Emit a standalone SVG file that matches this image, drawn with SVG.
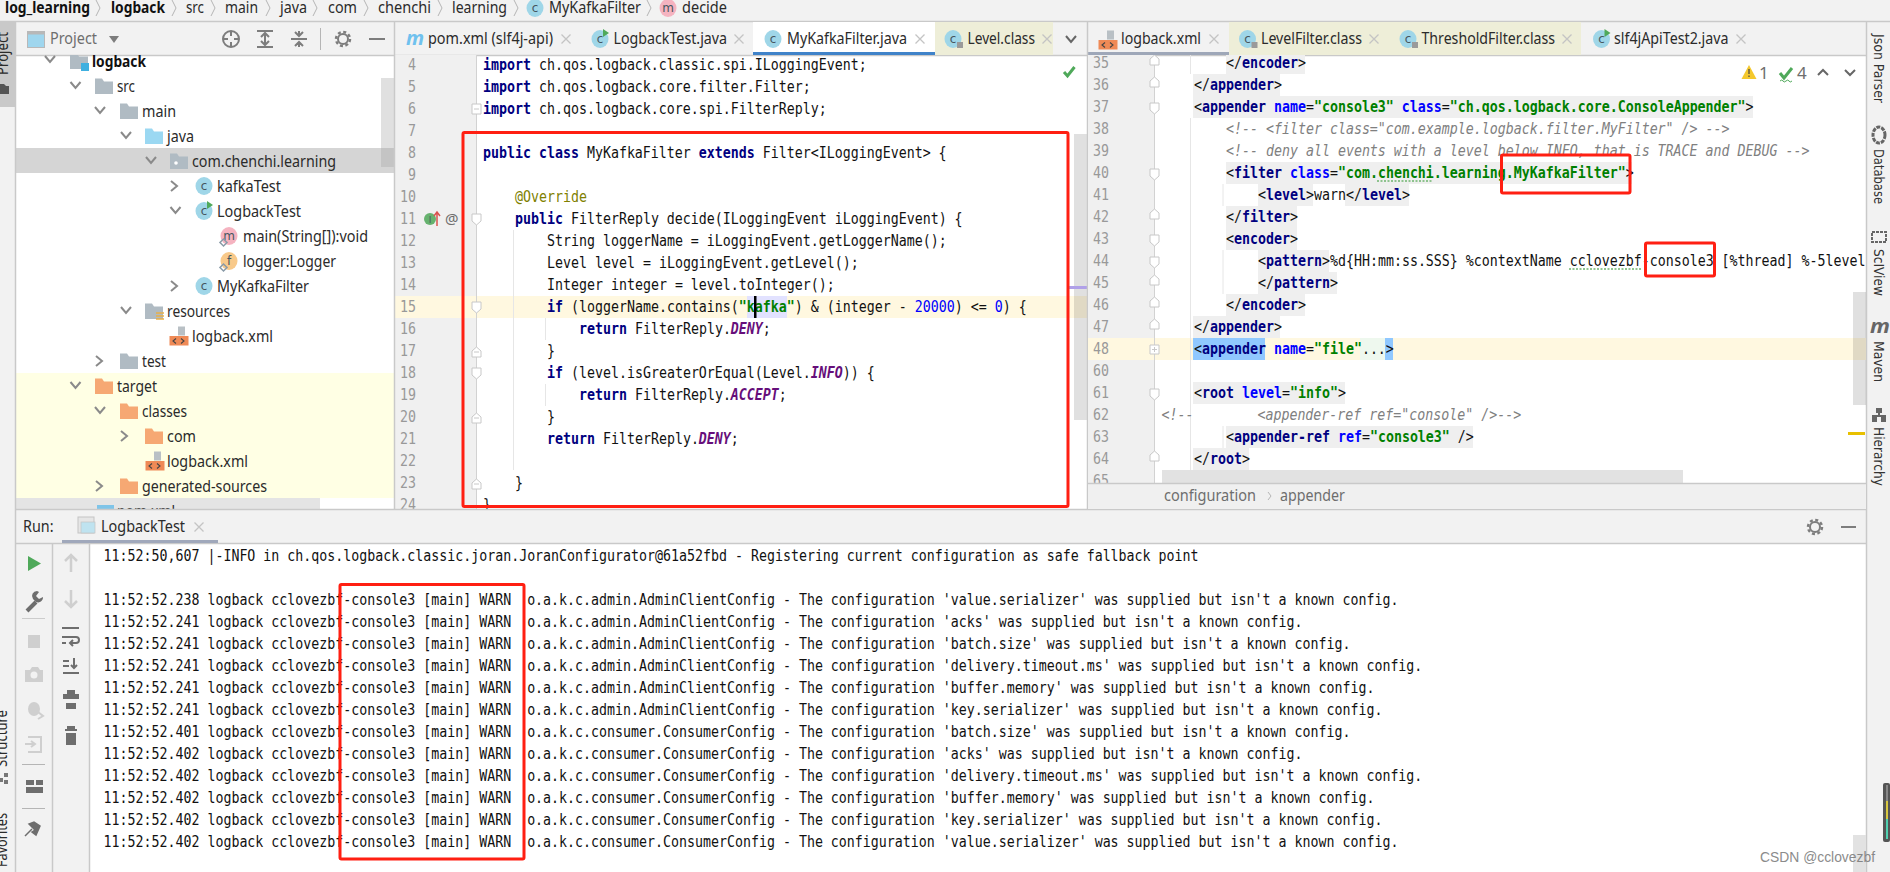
<svg xmlns="http://www.w3.org/2000/svg" width="1890" height="872" viewBox="0 0 1890 872">
<style>
text{white-space:pre}
.u{font:16px "Noto Sans","Liberation Sans",sans-serif;fill:#2b2b2b}
.b{font-weight:700;fill:#111}
.g{fill:#6e6e6e}
.v{font:13.5px "DejaVu Sans","Liberation Sans",sans-serif;fill:#333}
.m{font:15px "DejaVu Sans Mono","Liberation Mono",monospace;fill:#111}
.n{font:15px "DejaVu Sans Mono","Liberation Mono",monospace;fill:#999;text-anchor:end}
.k{fill:#000080;font-weight:700}
.s{fill:#008000;font-weight:700}
.a{fill:#0000ff;font-weight:700}
.d{fill:#0000ff}
.o{fill:#808000}
.f{fill:#660e7a;font-style:italic;font-weight:700}
.c{fill:#808080;font-style:italic}
.ch{fill:none;stroke:#8a8a8a;stroke-width:2}
.sep{fill:none;stroke:#b5b5b5;stroke-width:1}
.x{fill:none;stroke:#c4c4c4;stroke-width:1.3}
.red{fill:none;stroke:#ff1f12;stroke-width:3}
.ln{stroke:#c9c9c9;stroke-width:1.5;fill:none}
.ico{fill:#7d7d7d;stroke:none}
.ist{fill:none;stroke:#7d7d7d;stroke-width:2}
.fa{fill:#b0bbc3}.fb{fill:#9bd8f2}.fo{fill:#f6a873}
.tl{font:12px "DejaVu Sans",sans-serif;text-anchor:middle;fill:#46565f}
.fm{fill:#fff;stroke:#c8c8c8;stroke-width:1}
</style>
<defs>
<path id="fd" d="M-9-7.500h7l2 3h9v12.500h-18z"/>
<polyline id="cd" points="-5,-3 0,3 5,-3"/>
<polyline id="cr" points="-3,-5 3,0 -3,5"/>
<path id="xx" d="M-4.500-4.500l9 9m0-9l-9 9"/>
<g id="ic"><ellipse rx="8.500" ry="9" fill="#9fd6e8"/><text class="tl" y="4">c</text></g>
<g id="ir"><ellipse rx="8.500" ry="9" fill="#9fd6e8"/><text class="tl" y="4">c</text><path d="M3-10l6 4-6 4z" fill="#4fa95a"/></g>
<g id="il"><ellipse rx="8.500" ry="9" fill="#9fd6e8"/><text class="tl" y="4">c</text><rect x="4" y="3" width="6" height="6" fill="#9a9a9a"/></g>
<g id="ix"><path d="M-1-9.500h7v9h-7z" fill="#b9c0c5"/><rect x="-9.500" y="0" width="19" height="9.500" fill="#ef8a56"/><path d="M-3 2.500l-3 2.500 3 2.500m5-5l3 2.500-3 2.500" fill="none" stroke="#444" stroke-width="1.100"/></g>
<clipPath id="ct"><rect x="15" y="55" width="379" height="454"/></clipPath>
<clipPath id="cl"><rect x="395" y="55" width="692" height="454"/></clipPath>
<clipPath id="cg"><rect x="1088" y="55" width="778" height="428"/></clipPath>
</defs>

<rect width="1890" height="872" fill="#fff"/>
<!-- chrome -->
<rect width="1890" height="55" fill="#f2f2f2"/>
<rect x="0" y="22" width="15" height="850" fill="#f2f2f2"/>
<rect x="0" y="22" width="15" height="85" fill="#c9c9c9"/>
<rect x="1867" y="22" width="23" height="850" fill="#f2f2f2"/>
<rect x="15" y="509" width="1851" height="34" fill="#f2f2f2"/>
<rect x="15" y="544" width="75" height="328" fill="#f2f2f2"/>

<!-- breadcrumb -->
<g id="breadcrumb">
<text class="u b" x="5" y="13" textLength="85" lengthAdjust="spacingAndGlyphs">log_learning</text>
<text class="u b" x="111" y="13" textLength="54" lengthAdjust="spacingAndGlyphs">logback</text>
<text class="u" x="186" y="13" textLength="18" lengthAdjust="spacingAndGlyphs">src</text>
<text class="u" x="225" y="13" textLength="33" lengthAdjust="spacingAndGlyphs">main</text>
<text class="u" x="280" y="13" textLength="27" lengthAdjust="spacingAndGlyphs">java</text>
<text class="u" x="328" y="13" textLength="29" lengthAdjust="spacingAndGlyphs">com</text>
<text class="u" x="378" y="13" textLength="53" lengthAdjust="spacingAndGlyphs">chenchi</text>
<text class="u" x="452" y="13" textLength="55" lengthAdjust="spacingAndGlyphs">learning</text>
<use href="#ic" x="535" y="8"/>
<text class="u" x="549" y="13" textLength="92" lengthAdjust="spacingAndGlyphs">MyKafkaFilter</text>
<ellipse cx="668" cy="8" rx="8.500" ry="9" fill="#f5b3c0"/><text class="tl" x="668" y="12">m</text>
<text class="u" x="682" y="13" textLength="45" lengthAdjust="spacingAndGlyphs">decide</text>
<path class="sep" d="M96 0l4 8-4 8M172 0l4 8-4 8M211 0l4 8-4 8M266 0l4 8-4 8M313 0l4 8-4 8M364 0l4 8-4 8M438 0l4 8-4 8M514 0l4 8-4 8M647 0l4 8-4 8"/>
</g>
<path class="ln" d="M0 21.500H1890M15 55.500H1866"/>

<!-- left strip -->
<g id="left-strip">
<text class="u" transform="translate(8 75) rotate(-90)" textLength="43" lengthAdjust="spacingAndGlyphs">Project</text>
<path d="M0 84h4l2 2h3v8h-9z" fill="#555"/>
<text class="u" transform="translate(7 767) rotate(-90)" textLength="57" lengthAdjust="spacingAndGlyphs">Structure</text>
<path d="M0 778h3v4h-3zM4 773h4v4h-4zM4 780h4v4h-4z" fill="#777"/>
<text class="u" transform="translate(7 867) rotate(-90)" textLength="54" lengthAdjust="spacingAndGlyphs">Favorites</text>
</g>

<!-- project toolbar -->
<g id="project-toolbar">
<rect x="27.500" y="31.500" width="17" height="16" fill="#9fd6ee" stroke="#b8b8b8"/><rect x="27.500" y="31.500" width="17" height="3" fill="#b8b8b8"/>
<text class="u g" x="50" y="44" textLength="47" lengthAdjust="spacingAndGlyphs">Project</text>
<path d="M109 36h10l-5 7z" fill="#7d7d7d"/>
<circle class="ist" cx="231" cy="39" r="8"/><path class="ist" d="M231 31v5M231 42v5M223 39h5M234 39h5"/>
<path class="ist" d="M257 31h16M257 47h16M265 34v10M261 37l4-4 4 4M261 41l4 4 4-4"/>
<path class="ist" d="M291 39h16M299 31v5M299 47v-5M295 32l4 4 4-4M295 46l4-4 4 4"/>
<path class="sep" d="M320.500 28v22"/>
<circle class="ist" cx="343" cy="39" r="5" stroke-width="4"/><circle cx="343" cy="39" r="7" fill="none" stroke="#7d7d7d" stroke-width="2.500" stroke-dasharray="3 2.500"/>
<path class="ist" d="M369 39h16" stroke-width="2.500"/>
</g>

<!-- project tree -->
<g id="project-tree" clip-path="url(#ct)">
<rect x="15" y="148" width="379" height="25" fill="#d5d5d5"/>
<rect x="15" y="373" width="379" height="125" fill="#ffffe4"/>
<rect x="15" y="498" width="305" height="11" fill="#e4e4e4"/>
<rect x="381" y="78" width="13" height="89" fill="#e0e0e0"/><rect x="381" y="148" width="13" height="19" fill="#c4c4c4"/>
<use class="ch" href="#cd" x="50" y="59"/><use class="ch" href="#cd" x="75.500" y="85"/><use class="ch" href="#cd" x="100" y="110"/><use class="ch" href="#cd" x="126" y="135"/><use class="ch" href="#cd" x="151" y="160"/>
<use class="ch" href="#cr" x="174" y="186"/><use class="ch" href="#cd" x="175.500" y="210"/><use class="ch" href="#cr" x="174" y="286"/><use class="ch" href="#cd" x="126" y="310"/><use class="ch" href="#cr" x="99" y="361"/><use class="ch" href="#cd" x="75.500" y="385"/><use class="ch" href="#cd" x="100" y="410"/><use class="ch" href="#cr" x="124" y="436"/><use class="ch" href="#cr" x="99" y="486"/>
<use class="fa" href="#fd" x="79" y="61"/><rect x="81" y="63" width="8" height="8" fill="#3fb0e0"/>
<use class="fa" href="#fd" x="104" y="86"/><use class="fa" href="#fd" x="129" y="111"/><use class="fb" href="#fd" x="154" y="136"/><use class="fa" href="#fd" x="179" y="161"/><circle cx="176" cy="163" r="1.800" fill="#fff"/>
<use href="#ic" x="204" y="186"/><use href="#ir" x="204" y="211"/>
<ellipse cx="229" cy="236" rx="8.500" ry="9" fill="#f5b3c0"/><text class="tl" x="229" y="240">m</text><rect x="221" y="240" width="5" height="5" transform="rotate(45 223.500 242.500)" fill="none" stroke="#8a9ba8" stroke-width="1.500"/>
<ellipse cx="229" cy="261" rx="8.500" ry="9" fill="#f8c98a"/><text class="tl" x="229" y="265">f</text><rect x="221" y="265" width="5" height="5" transform="rotate(45 223.500 267.500)" fill="none" stroke="#8a9ba8" stroke-width="1.500"/>
<use href="#ic" x="204" y="286"/>
<use class="fa" href="#fd" x="154" y="311"/><path d="M156 313h8M156 316h8M156 319h8" stroke="#e8b04a" stroke-width="1.500"/>
<use href="#ix" x="179" y="336"/><use class="fa" href="#fd" x="129" y="361"/><use class="fo" href="#fd" x="104" y="386"/><use class="fo" href="#fd" x="129" y="411"/><use class="fo" href="#fd" x="154" y="436"/><use href="#ix" x="155" y="461"/><use class="fo" href="#fd" x="129" y="486"/>
<rect x="97" y="505" width="17" height="6" fill="#7fc4e8"/>
<text class="u b" x="92" y="67" textLength="54" lengthAdjust="spacingAndGlyphs">logback</text>
<text class="u" x="117" y="92" textLength="18" lengthAdjust="spacingAndGlyphs">src</text>
<text class="u" x="142" y="117" textLength="34" lengthAdjust="spacingAndGlyphs">main</text>
<text class="u" x="167" y="142" textLength="27" lengthAdjust="spacingAndGlyphs">java</text>
<text class="u" x="192" y="167" textLength="144" lengthAdjust="spacingAndGlyphs">com.chenchi.learning</text>
<text class="u" x="217" y="192" textLength="64" lengthAdjust="spacingAndGlyphs">kafkaTest</text>
<text class="u" x="217" y="217" textLength="84" lengthAdjust="spacingAndGlyphs">LogbackTest</text>
<text class="u" x="243" y="242" textLength="125" lengthAdjust="spacingAndGlyphs">main(String[]):void</text>
<text class="u" x="243" y="267" textLength="93" lengthAdjust="spacingAndGlyphs">logger:Logger</text>
<text class="u" x="217" y="292" textLength="92" lengthAdjust="spacingAndGlyphs">MyKafkaFilter</text>
<text class="u" x="167" y="317" textLength="63" lengthAdjust="spacingAndGlyphs">resources</text>
<text class="u" x="192" y="342" textLength="81" lengthAdjust="spacingAndGlyphs">logback.xml</text>
<text class="u" x="142" y="367" textLength="24" lengthAdjust="spacingAndGlyphs">test</text>
<text class="u" x="117" y="392" textLength="40" lengthAdjust="spacingAndGlyphs">target</text>
<text class="u" x="142" y="417" textLength="45" lengthAdjust="spacingAndGlyphs">classes</text>
<text class="u" x="167" y="442" textLength="29" lengthAdjust="spacingAndGlyphs">com</text>
<text class="u" x="167" y="467" textLength="81" lengthAdjust="spacingAndGlyphs">logback.xml</text>
<text class="u" x="142" y="492" textLength="125" lengthAdjust="spacingAndGlyphs">generated-sources</text>
<text class="u" x="117" y="517" textLength="58" lengthAdjust="spacingAndGlyphs">pom.xml</text>
</g>

<!-- editor tabs -->
<g id="editor-tabs">
<rect x="753" y="22" width="182" height="33" fill="#fff"/><rect x="753" y="52" width="182" height="3" fill="#4083c9"/>
<rect x="935" y="22" width="118" height="33" fill="#eeeed8"/>
<text x="406" y="45" style="font:italic 700 20px 'Noto Sans',sans-serif;fill:#6fc1ee">m</text>
<text class="u" x="428" y="44" textLength="125" lengthAdjust="spacingAndGlyphs">pom.xml (slf4j-api)</text><use class="x" href="#xx" x="566" y="39"/>
<use href="#ir" x="600" y="39"/><text class="u" x="613.500" y="44" textLength="113.500" lengthAdjust="spacingAndGlyphs">LogbackTest.java</text><use class="x" href="#xx" x="739" y="39"/>
<use href="#ic" x="773" y="39"/><text class="u" x="787" y="44" textLength="120" lengthAdjust="spacingAndGlyphs">MyKafkaFilter.java</text><use class="x" href="#xx" x="920" y="39"/>
<use href="#il" x="953" y="39"/><text class="u" x="967.500" y="44" textLength="67.500" lengthAdjust="spacingAndGlyphs">Level.class</text><use class="x" href="#xx" x="1047" y="39"/>
<use class="ist" href="#cd" x="1071" y="39" style="stroke:#666"/>
<rect x="1088" y="52" width="141" height="3" fill="#9ea7b8"/>
<rect x="1229" y="22" width="352" height="33" fill="#eeeed8"/>
<use href="#ix" x="1108" y="40"/><text class="u" x="1121" y="44" textLength="80" lengthAdjust="spacingAndGlyphs">logback.xml</text><use class="x" href="#xx" x="1214" y="39"/>
<use href="#il" x="1247.500" y="39"/><text class="u" x="1261" y="44" textLength="101" lengthAdjust="spacingAndGlyphs">LevelFilter.class</text><use class="x" href="#xx" x="1374" y="39"/>
<use href="#il" x="1408" y="39"/><text class="u" x="1421.500" y="44" textLength="133.500" lengthAdjust="spacingAndGlyphs">ThresholdFilter.class</text><use class="x" href="#xx" x="1567" y="39"/>
<use href="#ir" x="1601.500" y="39"/><text class="u" x="1614" y="44" textLength="114.500" lengthAdjust="spacingAndGlyphs">slf4jApiTest2.java</text><use class="x" href="#xx" x="1741" y="39"/>
</g>

<!-- left editor -->
<g id="editor-java" clip-path="url(#cl)">
<rect x="395" y="55" width="82" height="454" fill="#f0f0f0"/>
<rect x="395" y="296" width="692" height="22" fill="#fff8e0"/>
<rect x="1074" y="134" width="13" height="286" fill="#000" opacity=".12"/>
<rect x="1069" y="286" width="18" height="3" fill="#b0a0e8"/>
<rect x="747" y="296" width="40" height="22" fill="#e2e2ff"/>
<path d="M476.500 55V509" stroke="#d2d2d2"/>
<path d="M513.500 230V470M545.500 318V340M545.500 384V406" stroke="#e6e6e6"/>
<path class="fm" d="M472 104h9v10h-9zM474 109h5"/>
<path class="fm" d="M472 214h9v7l-4.500 4-4.500-4zM472 302h9v7l-4.500 4-4.500-4zM472 368h9v7l-4.500 4-4.500-4z"/>
<path class="fm" d="M472 351l4.500-4 4.500 4v6h-9zM472 417l4.500-4 4.500 4v6h-9zM472 483l4.500-4 4.500 4v6h-9zM474 352h5M474 418h5M474 484h5"/>
<circle cx="430" cy="219" r="6" fill="#66b26e"/><text class="tl" x="430" y="223" style="font-size:9px">I</text><path d="M437 226v-13M434 216l3-4 3 4" fill="none" stroke="#d9534f" stroke-width="1.500"/>
<text class="u g" x="445" y="224" style="font-size:15px">@</text>
<path d="M1064 72l3.500 4 7-9" fill="none" stroke="#4fa95a" stroke-width="3"/>
<g>
<text class="n" transform="translate(416 70) scale(.886 1)">4</text><text class="n" transform="translate(416 92) scale(.886 1)">5</text><text class="n" transform="translate(416 114) scale(.886 1)">6</text><text class="n" transform="translate(416 136) scale(.886 1)">7</text><text class="n" transform="translate(416 158) scale(.886 1)">8</text><text class="n" transform="translate(416 180) scale(.886 1)">9</text><text class="n" transform="translate(416 202) scale(.886 1)">10</text><text class="n" transform="translate(416 224) scale(.886 1)">11</text><text class="n" transform="translate(416 246) scale(.886 1)">12</text><text class="n" transform="translate(416 268) scale(.886 1)">13</text><text class="n" transform="translate(416 290) scale(.886 1)">14</text><text class="n" transform="translate(416 312) scale(.886 1)">15</text><text class="n" transform="translate(416 334) scale(.886 1)">16</text><text class="n" transform="translate(416 356) scale(.886 1)">17</text><text class="n" transform="translate(416 378) scale(.886 1)">18</text><text class="n" transform="translate(416 400) scale(.886 1)">19</text><text class="n" transform="translate(416 422) scale(.886 1)">20</text><text class="n" transform="translate(416 444) scale(.886 1)">21</text><text class="n" transform="translate(416 466) scale(.886 1)">22</text><text class="n" transform="translate(416 488) scale(.886 1)">23</text><text class="n" transform="translate(416 510) scale(.886 1)">24</text>
</g>
<text class="m" transform="translate(483 70) scale(.886 1)"><tspan class="k">import</tspan> ch.qos.logback.classic.spi.ILoggingEvent;</text>
<text class="m" transform="translate(483 92) scale(.886 1)"><tspan class="k">import</tspan> ch.qos.logback.core.filter.Filter;</text>
<text class="m" transform="translate(483 114) scale(.886 1)"><tspan class="k">import</tspan> ch.qos.logback.core.spi.FilterReply;</text>
<text class="m" transform="translate(483 158) scale(.886 1)"><tspan class="k">public class</tspan> MyKafkaFilter <tspan class="k">extends</tspan> Filter&lt;ILoggingEvent&gt; {</text>
<text class="m" transform="translate(515 202) scale(.886 1)"><tspan class="o">@Override</tspan></text>
<text class="m" transform="translate(515 224) scale(.886 1)"><tspan class="k">public</tspan> FilterReply decide(ILoggingEvent iLoggingEvent) {</text>
<text class="m" transform="translate(547 246) scale(.886 1)">String loggerName = iLoggingEvent.getLoggerName();</text>
<text class="m" transform="translate(547 268) scale(.886 1)">Level level = iLoggingEvent.getLevel();</text>
<text class="m" transform="translate(547 290) scale(.886 1)">Integer integer = level.toInteger();</text>
<text class="m" transform="translate(547 312) scale(.886 1)"><tspan class="k">if</tspan> (loggerName.contains(<tspan class="s">"kafka"</tspan>) &amp; (integer - <tspan class="d">20000</tspan>) &lt;= <tspan class="d">0</tspan>) {</text>
<text class="m" transform="translate(579 334) scale(.886 1)"><tspan class="k">return</tspan> FilterReply.<tspan class="f">DENY</tspan>;</text>
<text class="m" transform="translate(547 356) scale(.886 1)">}</text>
<text class="m" transform="translate(547 378) scale(.886 1)"><tspan class="k">if</tspan> (level.isGreaterOrEqual(Level.<tspan class="f">INFO</tspan>)) {</text>
<text class="m" transform="translate(579 400) scale(.886 1)"><tspan class="k">return</tspan> FilterReply.<tspan class="f">ACCEPT</tspan>;</text>
<text class="m" transform="translate(547 422) scale(.886 1)">}</text>
<text class="m" transform="translate(547 444) scale(.886 1)"><tspan class="k">return</tspan> FilterReply.<tspan class="f">DENY</tspan>;</text>
<text class="m" transform="translate(515 488) scale(.886 1)">}</text>
<text class="m" transform="translate(483 510) scale(.886 1)">}</text>
<rect x="754" y="296" width="2.500" height="22" fill="#000"/>
</g>
<path class="ln" d="M394.500 22V509M1087.500 22V509M15.500 22V872M1866.500 22V872M15 509.500H1866M15 543.500H1866M52.500 544V872M89.500 544V872"/>

<!-- right editor -->
<g id="editor-xml" clip-path="url(#cg)">
<rect x="1088" y="55" width="66" height="428" fill="#f0f0f0"/>
<rect x="1088" y="338" width="778" height="22" fill="#fff8e0"/>
<g fill="#efefef">
<rect x="1226" y="52" width="79" height="22"/><rect x="1193" y="74" width="87" height="22"/><rect x="1193" y="96" width="560" height="22"/><rect x="1226" y="162" width="406" height="22"/><rect x="1258" y="184" width="55" height="22"/><rect x="1345" y="184" width="64" height="22"/><rect x="1226" y="206" width="71" height="22"/><rect x="1226" y="228" width="71" height="22"/><rect x="1258" y="250" width="71" height="22"/><rect x="1258" y="272" width="79" height="22"/><rect x="1226" y="294" width="79" height="22"/><rect x="1193" y="316" width="87" height="22"/><rect x="1193" y="382" width="152" height="22"/><rect x="1226" y="426" width="247" height="22"/><rect x="1193" y="448" width="56" height="22"/>
</g>
<rect x="1193" y="338" width="72" height="22" fill="#90c8ff"/><rect x="1360" y="338" width="25" height="22" fill="#eef8ee"/><rect x="1385" y="338" width="8" height="22" fill="#90c8ff"/>
<path d="M1154.500 55V483" stroke="#d2d2d2"/>
<path d="M1190.500 52V74M1190.500 118V484M1223 184V206M1223 250V294M1223 426V448" stroke="#e6e6e6"/>
<path class="fm" d="M1150 59l4.500-4 4.500 4v6h-9zM1150 81l4.500-4 4.500 4v6h-9zM1150 213l4.500-4 4.500 4v6h-9zM1150 279l4.500-4 4.500 4v6h-9zM1150 301l4.500-4 4.500 4v6h-9zM1150 323l4.500-4 4.500 4v6h-9zM1150 455l4.500-4 4.500 4v6h-9z"/>
<path class="fm" d="M1150 103h9v7l-4.500 4-4.500-4zM1150 169h9v7l-4.500 4-4.500-4zM1150 235h9v7l-4.500 4-4.500-4zM1150 257h9v7l-4.500 4-4.500-4zM1150 389h9v7l-4.500 4-4.500-4zM1150 345h9v9h-9zM1152 349.500h5M1154.500 347v5"/>
<g>
<text class="n" transform="translate(1109 68) scale(.886 1)">35</text><text class="n" transform="translate(1109 90) scale(.886 1)">36</text><text class="n" transform="translate(1109 112) scale(.886 1)">37</text><text class="n" transform="translate(1109 134) scale(.886 1)">38</text><text class="n" transform="translate(1109 156) scale(.886 1)">39</text><text class="n" transform="translate(1109 178) scale(.886 1)">40</text><text class="n" transform="translate(1109 200) scale(.886 1)">41</text><text class="n" transform="translate(1109 222) scale(.886 1)">42</text><text class="n" transform="translate(1109 244) scale(.886 1)">43</text><text class="n" transform="translate(1109 266) scale(.886 1)">44</text><text class="n" transform="translate(1109 288) scale(.886 1)">45</text><text class="n" transform="translate(1109 310) scale(.886 1)">46</text><text class="n" transform="translate(1109 332) scale(.886 1)">47</text><text class="n" transform="translate(1109 354) scale(.886 1)">48</text><text class="n" transform="translate(1109 376) scale(.886 1)">60</text><text class="n" transform="translate(1109 398) scale(.886 1)">61</text><text class="n" transform="translate(1109 420) scale(.886 1)">62</text><text class="n" transform="translate(1109 442) scale(.886 1)">63</text><text class="n" transform="translate(1109 464) scale(.886 1)">64</text><text class="n" transform="translate(1109 486) scale(.886 1)">65</text>
</g>
<text class="m" transform="translate(1226 68) scale(.886 1)">&lt;/<tspan class="k">encoder</tspan>&gt;</text>
<text class="m" transform="translate(1194 90) scale(.886 1)">&lt;/<tspan class="k">appender</tspan>&gt;</text>
<text class="m" transform="translate(1194 112) scale(.886 1)">&lt;<tspan class="k">appender</tspan> <tspan class="a">name</tspan>=<tspan class="s">"console3"</tspan> <tspan class="a">class</tspan>=<tspan class="s">"ch.qos.logback.core.ConsoleAppender"</tspan>&gt;</text>
<text class="m c" transform="translate(1226 134) scale(.886 1)">&lt;!-- &lt;filter class="com.example.logback.filter.MyFilter" /&gt; --&gt;</text>
<text class="m c" transform="translate(1226 156) scale(.886 1)">&lt;!-- deny all events with a level below INFO, that is TRACE and DEBUG --&gt;</text>
<text class="m" transform="translate(1226 178) scale(.886 1)">&lt;<tspan class="k">filter</tspan> <tspan class="a">class</tspan>=<tspan class="s">"com.chenchi.learning.MyKafkaFilter"</tspan>&gt;</text>
<text class="m" transform="translate(1258 200) scale(.886 1)">&lt;<tspan class="k">level</tspan>&gt;warn&lt;/<tspan class="k">level</tspan>&gt;</text>
<text class="m" transform="translate(1226 222) scale(.886 1)">&lt;/<tspan class="k">filter</tspan>&gt;</text>
<text class="m" transform="translate(1226 244) scale(.886 1)">&lt;<tspan class="k">encoder</tspan>&gt;</text>
<text class="m" transform="translate(1258 266) scale(.886 1)">&lt;<tspan class="k">pattern</tspan>&gt;%d{HH:mm:ss.SSS} %contextName cclovezbf-console3 [%thread] %-5level</text>
<text class="m" transform="translate(1258 288) scale(.886 1)">&lt;/<tspan class="k">pattern</tspan>&gt;</text>
<text class="m" transform="translate(1226 310) scale(.886 1)">&lt;/<tspan class="k">encoder</tspan>&gt;</text>
<text class="m" transform="translate(1194 332) scale(.886 1)">&lt;/<tspan class="k">appender</tspan>&gt;</text>
<text class="m" transform="translate(1194 354) scale(.886 1)">&lt;<tspan class="k">appender</tspan> <tspan class="a">name</tspan>=<tspan class="s">"file"</tspan>...&gt;</text>
<text class="m" transform="translate(1194 398) scale(.886 1)">&lt;<tspan class="k">root</tspan> <tspan class="a">level</tspan>=<tspan class="s">"info"</tspan>&gt;</text>
<text class="m c" transform="translate(1161.500 420) scale(.886 1)">&lt;!--        &lt;appender-ref ref="console" /&gt;--&gt;</text>
<text class="m" transform="translate(1226 442) scale(.886 1)">&lt;<tspan class="k">appender-ref</tspan> <tspan class="a">ref</tspan>=<tspan class="s">"console3"</tspan> /&gt;</text>
<text class="m" transform="translate(1194 464) scale(.886 1)">&lt;/<tspan class="k">root</tspan>&gt;</text>
<path d="M1377 181h56M1569 269h72" stroke="#6fb56f" stroke-width="1.500" stroke-dasharray="2 1.500" fill="none"/>
<rect x="1162" y="470" width="521" height="13" fill="#e2e2e2"/>
<rect x="1853" y="292" width="13" height="113" fill="#000" opacity=".12"/>
<rect x="1848" y="432" width="17" height="3" fill="#e8c000"/>
<path d="M1749 65l7.500 14h-15z" fill="#f4c82d"/><path d="M1749 69v5M1749 75.500v1.500" stroke="#444" stroke-width="1.200"/>
<text class="u g" x="1759" y="79" style="font-size:17px">1</text>
<path d="M1780 73l4 5 8-10" fill="none" stroke="#4fa95a" stroke-width="3"/><path d="M1780 81q2-2 3 0t3 0 3 0 3 0" fill="none" stroke="#4fa95a"/>
<text class="u g" x="1797" y="79" style="font-size:17px">4</text>
<path class="ist" d="M1818 75l5-5 5 5M1845 70l5 5 5-5" style="stroke:#666"/>
</g>

<!-- xml breadcrumb -->
<g id="xml-breadcrumb">
<rect x="1088" y="484" width="778" height="25" fill="#f0f0f0"/>
<path class="ln" d="M1088 483.500H1866"/>
<text class="u g" x="1164" y="501" textLength="92" lengthAdjust="spacingAndGlyphs">configuration</text>
<path class="sep" d="M1268 492l3 4-3 4"/>
<text class="u g" x="1280" y="501" textLength="65" lengthAdjust="spacingAndGlyphs">appender</text>
</g>

<!-- right strip -->
<g id="right-strip">
<text class="v" transform="translate(1874 34) rotate(90)" textLength="69" lengthAdjust="spacingAndGlyphs">Json Parser</text>
<ellipse cx="1879" cy="135" rx="6" ry="8" fill="none" stroke="#666" stroke-width="3" stroke-dasharray="4 1"/>
<text class="v" transform="translate(1874 149) rotate(90)" textLength="55" lengthAdjust="spacingAndGlyphs">Database</text>
<rect x="1872" y="232" width="14" height="10" fill="none" stroke="#666" stroke-width="2" stroke-dasharray="3 1"/>
<text class="v" transform="translate(1874 249) rotate(90)" textLength="47" lengthAdjust="spacingAndGlyphs">ScIView</text>
<text transform="translate(1870 333) scale(1.100 1)" style="font:italic 700 20px 'Noto Sans',sans-serif;fill:#666">m</text>
<text class="v" transform="translate(1874 341) rotate(90)" textLength="41" lengthAdjust="spacingAndGlyphs">Maven</text>
<path d="M1876 408h6v5h-2v2h6v7h-5v-5h-4v5h-5v-7h6v-2h-2z" fill="#666"/>
<text class="v" transform="translate(1874 427) rotate(90)" textLength="59" lengthAdjust="spacingAndGlyphs">Hierarchy</text>
<rect x="1883" y="783" width="7" height="59" rx="2" fill="#555"/>
<path d="M1887 785v16" stroke="#888" stroke-width="2"/><path d="M1887 801v18" stroke="#d8c840" stroke-width="2"/><path d="M1887 819v20" stroke="#50d0b0" stroke-width="2"/>
</g>

<!-- run bar -->
<g id="run-bar">
<text class="u" x="23" y="532" textLength="30.500" lengthAdjust="spacingAndGlyphs">Run:</text>
<rect x="78" y="517" width="16" height="16" fill="#e6e6e6" stroke="#c4c4c4"/><rect x="81" y="522" width="14" height="11" fill="#bfe3f0" stroke="#c4c4c4" stroke-width=".7"/>
<text class="u" x="101" y="532" textLength="84" lengthAdjust="spacingAndGlyphs">LogbackTest</text>
<use class="x" href="#xx" x="199" y="527"/>
<rect x="62" y="540" width="156" height="3" fill="#a0a8bb"/>
<circle class="ist" cx="1815" cy="527" r="5" stroke-width="4"/><circle cx="1815" cy="527" r="7" fill="none" stroke="#7d7d7d" stroke-width="2.500" stroke-dasharray="3 2.500"/>
<path class="ist" d="M1841 527h15" stroke-width="2.500"/>
</g>

<!-- run toolbar -->
<g id="run-toolbar">
<path d="M28 556l13 7.500-13 7.500z" fill="#4fa95a"/>
<path d="M71 572v-17M65 561l6-6 6 6M71 607v-17M65 601l6 6 6-6" fill="none" stroke="#cfcfcf" stroke-width="2.500"/>
<path d="M27 611l9-9" stroke="#6e6e6e" stroke-width="4"/><path d="M37 591a5 5 0 0 0-4 8l3 3a5 5 0 0 0 7-5l-4 2-3-3 3-4z" fill="#6e6e6e"/>
<path class="sep" d="M22 764.500h23M22 808.500h23"/>
<path d="M22 618.500h23" stroke="#ccc"/>
<rect x="28" y="635" width="12" height="13" fill="#cfcfcf"/>
<path d="M62 628h17M62 637h14a3 3 0 0 1 0 6h-6M73 640l-3 3 3 3M62 643h4" fill="none" stroke="#6e6e6e" stroke-width="2"/>
<path d="M63 661h6M63 666h6M63 673h16M74 658v10M71 665l3 3 3-3" fill="none" stroke="#6e6e6e" stroke-width="2"/>
<path d="M25 670h18v12h-18zM30 670l2-3h6l2 3" fill="#cfcfcf"/><circle cx="34" cy="675" r="3.500" fill="#f2f2f2"/>
<path d="M63 694h16v5h-16zM67 690h8v4h-8zM66 703h10v6h-10z" fill="#6e6e6e"/>
<ellipse cx="34" cy="709" rx="6" ry="7" fill="#cfcfcf"/><path d="M38 712l5 4-5 3" fill="none" stroke="#cfcfcf" stroke-width="2"/>
<path d="M67 729h8v-3h-8zM65 729h12v2h-12zM66 733h10v12h-10z" fill="#6e6e6e"/>
<path d="M28 737h13v15h-13M25 744h9M31 741l4 3-4 3" fill="none" stroke="#cfcfcf" stroke-width="2"/>
<path d="M26 780h8v5h-8zM36 780h7v5h-7zM26 787h17v6h-17z" fill="#6e6e6e"/>
<path d="M25 836l7-7M29 824l6 6-3 2 4 3 4-9-6-4z" fill="#6e6e6e" stroke="#6e6e6e" stroke-width="1.500"/>
</g>

<!-- console -->
<g id="console">
<text class="m" transform="translate(103.500 561) scale(.886 1)">11:52:50,607 |-INFO in ch.qos.logback.classic.joran.JoranConfigurator@61a52fbd - Registering current configuration as safe fallback point</text>
<text class="m" transform="translate(103.500 605) scale(.886 1)">11:52:52.238 logback cclovezbf-console3 [main] WARN  o.a.k.c.admin.AdminClientConfig - The configuration 'value.serializer' was supplied but isn't a known config.</text>
<text class="m" transform="translate(103.500 627) scale(.886 1)">11:52:52.241 logback cclovezbf-console3 [main] WARN  o.a.k.c.admin.AdminClientConfig - The configuration 'acks' was supplied but isn't a known config.</text>
<text class="m" transform="translate(103.500 649) scale(.886 1)">11:52:52.241 logback cclovezbf-console3 [main] WARN  o.a.k.c.admin.AdminClientConfig - The configuration 'batch.size' was supplied but isn't a known config.</text>
<text class="m" transform="translate(103.500 671) scale(.886 1)">11:52:52.241 logback cclovezbf-console3 [main] WARN  o.a.k.c.admin.AdminClientConfig - The configuration 'delivery.timeout.ms' was supplied but isn't a known config.</text>
<text class="m" transform="translate(103.500 693) scale(.886 1)">11:52:52.241 logback cclovezbf-console3 [main] WARN  o.a.k.c.admin.AdminClientConfig - The configuration 'buffer.memory' was supplied but isn't a known config.</text>
<text class="m" transform="translate(103.500 715) scale(.886 1)">11:52:52.241 logback cclovezbf-console3 [main] WARN  o.a.k.c.admin.AdminClientConfig - The configuration 'key.serializer' was supplied but isn't a known config.</text>
<text class="m" transform="translate(103.500 737) scale(.886 1)">11:52:52.401 logback cclovezbf-console3 [main] WARN  o.a.k.c.consumer.ConsumerConfig - The configuration 'batch.size' was supplied but isn't a known config.</text>
<text class="m" transform="translate(103.500 759) scale(.886 1)">11:52:52.402 logback cclovezbf-console3 [main] WARN  o.a.k.c.consumer.ConsumerConfig - The configuration 'acks' was supplied but isn't a known config.</text>
<text class="m" transform="translate(103.500 781) scale(.886 1)">11:52:52.402 logback cclovezbf-console3 [main] WARN  o.a.k.c.consumer.ConsumerConfig - The configuration 'delivery.timeout.ms' was supplied but isn't a known config.</text>
<text class="m" transform="translate(103.500 803) scale(.886 1)">11:52:52.402 logback cclovezbf-console3 [main] WARN  o.a.k.c.consumer.ConsumerConfig - The configuration 'buffer.memory' was supplied but isn't a known config.</text>
<text class="m" transform="translate(103.500 825) scale(.886 1)">11:52:52.402 logback cclovezbf-console3 [main] WARN  o.a.k.c.consumer.ConsumerConfig - The configuration 'key.serializer' was supplied but isn't a known config.</text>
<text class="m" transform="translate(103.500 847) scale(.886 1)">11:52:52.402 logback cclovezbf-console3 [main] WARN  o.a.k.c.consumer.ConsumerConfig - The configuration 'value.serializer' was supplied but isn't a known config.</text>
<rect x="1853" y="835" width="13" height="37" fill="#e2e2e2"/>
</g>

<!-- annotations -->
<g id="red-boxes">
<rect class="red" x="463" y="132.500" width="605" height="374" rx="1.500"/>
<rect class="red" x="1501.500" y="155" width="128.500" height="38" rx="1.500"/>
<rect class="red" x="1645.500" y="243" width="69" height="33" rx="1.500"/>
<rect class="red" x="340" y="584.500" width="184" height="274.500" rx="1.500"/>
</g>
<text x="1760" y="862" textLength="115" lengthAdjust="spacingAndGlyphs" style="font:15px 'Liberation Sans',sans-serif;fill:#777;opacity:.85">CSDN @cclovezbf</text>
</svg>
